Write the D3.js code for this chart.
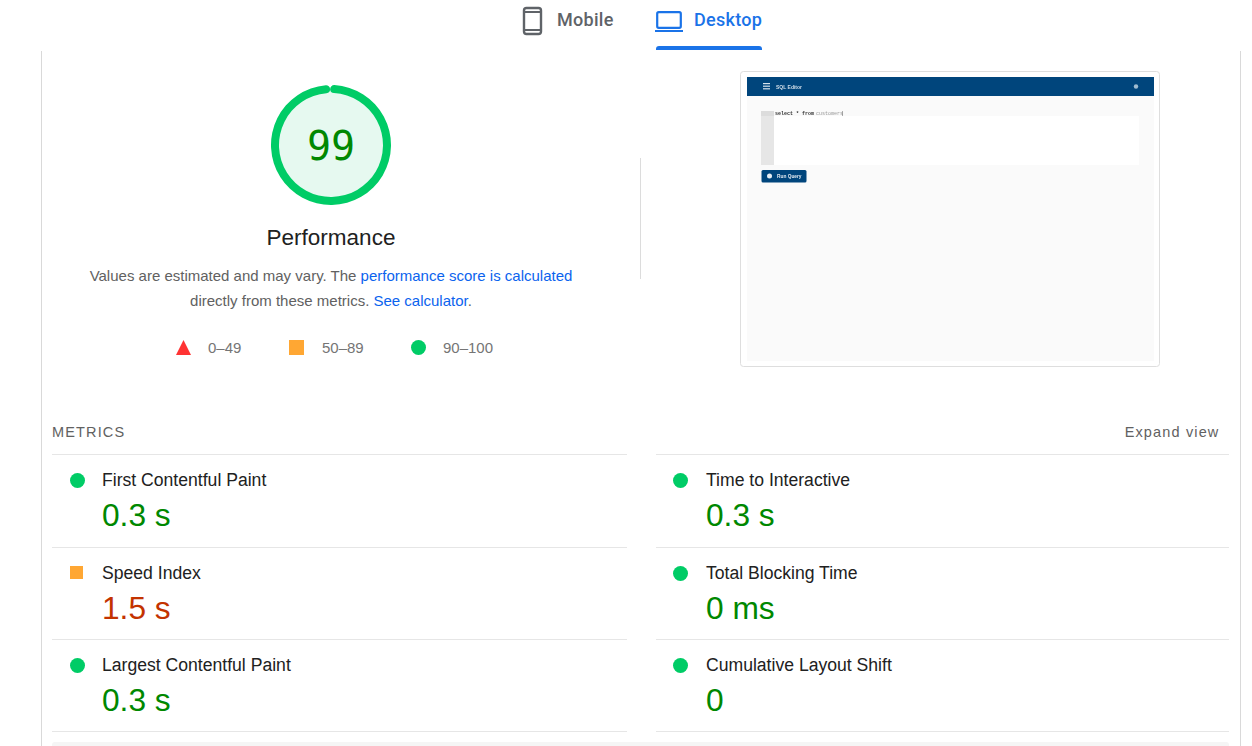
<!DOCTYPE html>
<html>
<head>
<meta charset="utf-8">
<script src="https://cdn.jsdelivr.net/npm/d3@7"></script>
<style>
  html, body { margin: 0; padding: 0; background: #fff; overflow: hidden; }
  text { font-family: "Liberation Sans", Arial, sans-serif; }
  .tab { font-family: Roboto, sans-serif; font-weight: 500; font-size: 18px; letter-spacing: 0.3px; }
</style>
</head>
<body>
<svg id="report" width="1252" height="746"></svg>
<script>
const tabLabels = [ 'Mobile', 'Desktop' ];
const gaugeScore = 99;
const gaugeTitle = 'Performance';
const legendLabels = [ '0–49', '50–89', '90–100' ];
const leftMetricNames = [ 'First Contentful Paint', 'Speed Index', 'Largest Contentful Paint' ];
const leftMetricValues = [ '0.3 s', '1.5 s', '0.3 s' ];
const leftMetricRatings = [ 'pass', 'average', 'pass' ];
const rightMetricNames = [ 'Time to Interactive', 'Total Blocking Time', 'Cumulative Layout Shift' ];
const rightMetricValues = [ '0.3 s', '0 ms', '0' ];
const rightMetricRatings = [ 'pass', 'pass', 'pass' ];

const GREEN = '#00cc66', RED = '#ff3333', SQUARE = '#ffa733', TAB_BLUE = '#1a73e8';
const LINK = '#0b63ee', RULE = '#e6e6e6', BORDER = '#d9d9d9', NAVY = '#00457c';
const valueColor = { pass: '#008800', average: '#c33300' };

const svg = d3.select( '#report' );

const defs = svg.append( 'defs' );
defs.append( 'filter' ).attr( 'id', 'soft' )
  .append( 'feGaussianBlur' ).attr( 'stdDeviation', 0.35 );

// page frame
[ 41.5, 1240.5 ].forEach( x => {
  svg.append( 'line' ).attr( 'x1', x ).attr( 'x2', x ).attr( 'y1', 51 ).attr( 'y2', 746 )
    .attr( 'stroke', BORDER );
} );
svg.append( 'line' ).attr( 'x1', 640.5 ).attr( 'x2', 640.5 ).attr( 'y1', 158 ).attr( 'y2', 279 )
  .attr( 'stroke', '#dcdcdc' );

// tabs
const tabs = svg.append( 'g' );
tabs.append( 'rect' ).attr( 'x', 524 ).attr( 'y', 8 ).attr( 'width', 17 ).attr( 'height', 26 )
  .attr( 'rx', 2.5 ).attr( 'fill', 'none' ).attr( 'stroke', '#5f6368' ).attr( 'stroke-width', 2.4 );
tabs.append( 'rect' ).attr( 'x', 524 ).attr( 'y', 11 ).attr( 'width', 17 ).attr( 'height', 2 ).attr( 'fill', '#5f6368' );
tabs.append( 'rect' ).attr( 'x', 524 ).attr( 'y', 29 ).attr( 'width', 17 ).attr( 'height', 2 ).attr( 'fill', '#5f6368' );
tabs.append( 'text' ).attr( 'class', 'tab' ).attr( 'x', 557 ).attr( 'y', 26 ).attr( 'fill', '#5f6368' ).text( tabLabels[ 0 ] );
tabs.append( 'rect' ).attr( 'x', 657.2 ).attr( 'y', 12.2 ).attr( 'width', 23.6 ).attr( 'height', 15.6 )
  .attr( 'rx', 1.5 ).attr( 'fill', 'none' ).attr( 'stroke', TAB_BLUE ).attr( 'stroke-width', 2.2 );
tabs.append( 'rect' ).attr( 'x', 655 ).attr( 'y', 30 ).attr( 'width', 28 ).attr( 'height', 2 ).attr( 'fill', TAB_BLUE );
tabs.append( 'text' ).attr( 'class', 'tab' ).attr( 'x', 694 ).attr( 'y', 26 ).attr( 'fill', TAB_BLUE ).text( tabLabels[ 1 ] );
tabs.append( 'path' ).attr( 'd', 'M656,50v-1a3,3 0 0 1 3,-3h100a3,3 0 0 1 3,3v1z' ).attr( 'fill', TAB_BLUE );

// gauge: the range is stretched a little so the rounded ends of a 99 arc just meet
const gaugeAngle = d3.scaleLinear().domain( [ 0, 100 ] ).range( [ 0, 2 * Math.PI + 0.0628 ] );
const gauge = svg.append( 'g' ).attr( 'transform', 'translate(331,145)' );
gauge.append( 'circle' ).attr( 'r', 56 ).attr( 'fill', '#e6f9f0' );
gauge.append( 'path' )
  .attr( 'd', d3.arc().innerRadius( 52 ).outerRadius( 60 ).cornerRadius( 4 )
    .startAngle( gaugeAngle( 0 ) - 0.015 ).endAngle( gaugeAngle( gaugeScore ) - 0.015 )() )
  .attr( 'fill', GREEN );
gauge.append( 'text' ).attr( 'y', 15 ).attr( 'text-anchor', 'middle' )
  .style( 'font-family', '"DejaVu Sans Mono", monospace' ).attr( 'font-size', 40 )
  .attr( 'fill', valueColor.pass ).text( gaugeScore );

svg.append( 'text' ).attr( 'x', 331 ).attr( 'y', 245 ).attr( 'text-anchor', 'middle' )
  .attr( 'font-size', 22.5 ).attr( 'fill', '#212121' ).text( gaugeTitle );

// description, mixed plain and link runs
const descLines = [
  { y: 281, runs: [ [ 'Values are estimated and may vary. The ', '#616161' ], [ 'performance score is calculated', LINK ] ] },
  { y: 306, runs: [ [ 'directly from these metrics. ', '#616161' ], [ 'See calculator', LINK ], [ '.', '#616161' ] ] }
];
descLines.forEach( line => {
  const t = svg.append( 'text' ).attr( 'x', 331 ).attr( 'y', line.y ).attr( 'text-anchor', 'middle' ).attr( 'font-size', 15 );
  line.runs.forEach( r => t.append( 'tspan' ).attr( 'fill', r[ 1 ] ).text( r[ 0 ] ) );
} );

// shape for a rating, centred on 0,0
function drawShape( g, kind, size ) {
  const half = size / 2;
  if ( kind === 'fail' ) {
    g.append( 'path' ).attr( 'd', `M0,${ -half }L${ half },${ half }H${ -half }Z` ).attr( 'fill', RED );
  } else if ( kind === 'average' ) {
    g.append( 'rect' ).attr( 'x', -half ).attr( 'y', -half ).attr( 'width', size ).attr( 'height', size ).attr( 'fill', SQUARE );
  } else {
    g.append( 'circle' ).attr( 'r', half ).attr( 'fill', GREEN );
  }
}

// legend
const legendKinds = [ 'fail', 'average', 'pass' ];
const legendShapeX = [ 183.5, 296.5, 418.5 ];
const legendTextX = [ 208, 322, 443 ];
legendLabels.forEach( ( label, i ) => {
  drawShape( svg.append( 'g' ).attr( 'transform', `translate(${ legendShapeX[ i ] },347.5)` ), legendKinds[ i ], 15 );
  svg.append( 'text' ).attr( 'x', legendTextX[ i ] ).attr( 'y', 353 ).attr( 'font-size', 15 ).attr( 'fill', '#757575' ).text( label );
} );

// thumbnail of the audited page, slightly soft like the scaled screenshot
svg.append( 'rect' ).attr( 'x', 740.5 ).attr( 'y', 71.5 ).attr( 'width', 419 ).attr( 'height', 295 )
  .attr( 'rx', 3 ).attr( 'fill', '#fff' ).attr( 'stroke', '#dedede' );
const shot = svg.append( 'g' ).attr( 'filter', 'url(#soft)' );
shot.append( 'rect' ).attr( 'x', 747 ).attr( 'y', 77 ).attr( 'width', 407 ).attr( 'height', 284 ).attr( 'fill', '#fafafa' );
shot.append( 'rect' ).attr( 'x', 747 ).attr( 'y', 77 ).attr( 'width', 407 ).attr( 'height', 19 ).attr( 'fill', NAVY );
[ 83, 85.6, 88.2 ].forEach( y => {
  shot.append( 'rect' ).attr( 'x', 763 ).attr( 'y', y ).attr( 'width', 7 ).attr( 'height', 1.2 ).attr( 'fill', '#d5e2ec' );
} );
shot.append( 'text' ).attr( 'x', 776 ).attr( 'y', 88.5 ).attr( 'font-size', 5 ).attr( 'font-weight', 700 ).attr( 'fill', '#cfdde8' ).text( 'SQL Editor' );
shot.append( 'circle' ).attr( 'cx', 1136 ).attr( 'cy', 86.5 ).attr( 'r', 2.2 ).attr( 'fill', '#9fbbd0' );
shot.append( 'rect' ).attr( 'x', 774 ).attr( 'y', 116 ).attr( 'width', 365 ).attr( 'height', 49 ).attr( 'fill', '#fff' );
shot.append( 'rect' ).attr( 'x', 761 ).attr( 'y', 111 ).attr( 'width', 13 ).attr( 'height', 54 ).attr( 'fill', '#e6e6e6' );
shot.append( 'rect' ).attr( 'x', 761 ).attr( 'y', 111 ).attr( 'width', 13 ).attr( 'height', 5 ).attr( 'fill', '#dcdcdc' );
shot.append( 'text' ).attr( 'x', 775 ).attr( 'y', 115 ).attr( 'font-size', 5 ).attr( 'font-weight', 700 )
  .style( 'font-family', '"Liberation Mono", monospace' ).attr( 'fill', '#333' ).text( 'select * from' );
shot.append( 'text' ).attr( 'x', 816 ).attr( 'y', 115 ).attr( 'font-size', 5 )
  .style( 'font-family', '"Liberation Mono", monospace' ).attr( 'fill', '#999' ).text( 'customers' );
shot.append( 'rect' ).attr( 'x', 842 ).attr( 'y', 111 ).attr( 'width', 0.6 ).attr( 'height', 5 ).attr( 'fill', '#777' );
shot.append( 'rect' ).attr( 'x', 761.5 ).attr( 'y', 170 ).attr( 'width', 45 ).attr( 'height', 12.5 ).attr( 'rx', 1.5 ).attr( 'fill', NAVY );
shot.append( 'circle' ).attr( 'cx', 769.5 ).attr( 'cy', 176 ).attr( 'r', 2.5 ).attr( 'fill', '#e6edf3' );
shot.append( 'text' ).attr( 'x', 777 ).attr( 'y', 178 ).attr( 'font-size', 4.8 ).attr( 'font-weight', 700 ).attr( 'fill', '#dfe8ef' ).text( 'Run Query' );

// metrics header
svg.append( 'text' ).attr( 'x', 52 ).attr( 'y', 437 ).attr( 'font-size', 14.5 ).attr( 'letter-spacing', 1.15 ).attr( 'fill', '#616161' ).text( 'METRICS' );
svg.append( 'text' ).attr( 'x', 1219.5 ).attr( 'y', 437 ).attr( 'text-anchor', 'end' ).attr( 'font-size', 14.5 ).attr( 'letter-spacing', 1.15 ).attr( 'fill', '#616161' ).text( 'Expand view' );

// metric rows: top rule of each row, plus the closing rule
const rowRules = [ 454.5, 547.5, 639.5, 731.5 ];
function drawColumn( names, values, ratings, x0, x1, shapeX ) {
  rowRules.forEach( y => {
    svg.append( 'line' ).attr( 'x1', x0 ).attr( 'x2', x1 ).attr( 'y1', y ).attr( 'y2', y ).attr( 'stroke', RULE );
  } );
  names.forEach( ( name, i ) => {
    const top = rowRules[ i ];
    const square = ratings[ i ] === 'average';
    const shape = svg.append( 'g' )
      .attr( 'transform', `translate(${ square ? shapeX - 1 : shapeX },${ square ? top + 25 : top + 26 })` );
    drawShape( shape, ratings[ i ], square ? 13 : 15 );
    svg.append( 'text' ).attr( 'x', x0 + 50 ).attr( 'y', top + 31 ).attr( 'font-size', 17.6 ).attr( 'fill', '#212121' ).text( name );
    svg.append( 'text' ).attr( 'x', x0 + 50 ).attr( 'y', top + 71 ).attr( 'font-size', 31.7 ).attr( 'fill', valueColor[ ratings[ i ] ] ).text( values[ i ] );
  } );
}
drawColumn( leftMetricNames, leftMetricValues, leftMetricRatings, 52, 627, 77.5 );
drawColumn( rightMetricNames, rightMetricValues, rightMetricRatings, 656, 1229, 680.5 );

// top of the next panel
svg.append( 'path' ).attr( 'd', 'M52,746v-1a3,3 0 0 1 3,-3h1171a3,3 0 0 1 3,3v1z' ).attr( 'fill', '#f5f5f5' );
</script>
</body>
</html>
